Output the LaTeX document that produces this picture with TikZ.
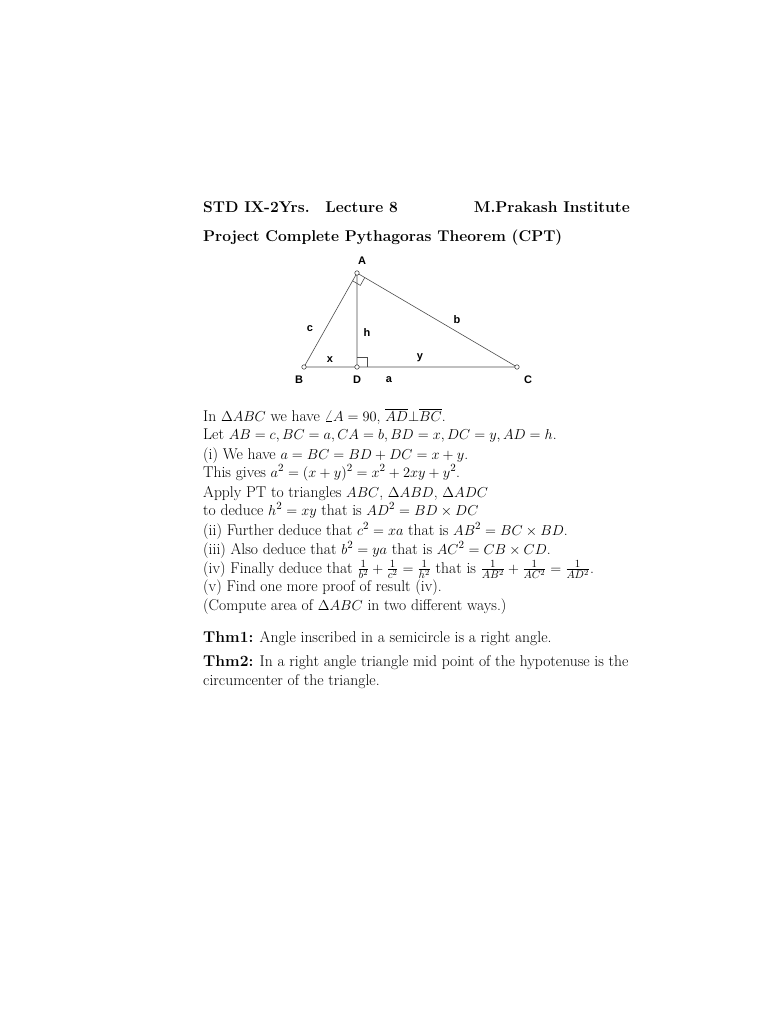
\documentclass[tikz,border=0pt]{standalone}
\usepackage{fontspec}
\usepackage{amsmath}
\usetikzlibrary{calc}
\newfontfamily\lbl{Liberation Sans}
\begin{document}
\begin{tikzpicture}[x=1pt,y=-1pt,
  txt/.style={anchor=base west,inner sep=0pt,font=\fontsize{15.6}{18}\selectfont},
  lab/.style={inner sep=0pt,font=\lbl\bfseries\fontsize{11}{12}\selectfont},
  pt/.style={circle,draw,fill=white,inner sep=0pt,minimum size=4.5pt},
  edge/.style={draw=black!70,line width=0.6pt}]
\useasboundingbox (0,0) rectangle (768,1024);
\node[txt] (h1) at (203,213) {\textbf{STD IX-2Yrs.\quad Lecture 8}};
\node[txt,anchor=base east] (h2) at (630,213) {\textbf{M.Prakash Institute}};
\node[txt] (h3) at (203,241) {\textbf{Project Complete Pythagoras Theorem (CPT)}};
% triangle
\coordinate (A) at (357,273);
\coordinate (B) at (304,367);
\coordinate (D) at (357,367);
\coordinate (C) at (517,367);
\draw[edge] (A)--(B)--(C)--cycle (A)--(D);
\draw[edge] (357,357)--(367,357)--(367,367);
\draw[edge] ($(A)!9pt!(B)$) -- ($(A)!9pt!(B)+(A)!9pt!(C)-(A)$) -- ($(A)!9pt!(C)$);
\node[pt] at (A) {}; \node[pt] at (B) {}; \node[pt] at (D) {}; \node[pt] at (C) {};
\node[lab] (lA) at (362,261) {A};
\node[lab] (lB) at (299,380) {B};
\node[lab] (lD) at (357,380) {D};
\node[lab] (la) at (389,380) {a};
\node[lab] (lC) at (528,380) {C};
\node[lab] (lc) at (310,329) {c};
\node[lab] (lh) at (367,333) {h};
\node[lab] (lb) at (457,320) {b};
\node[lab] (lx) at (330,360) {x};
\node[lab] (ly) at (420,358) {y};
% text
\node[txt] (t1) at (203,421) {In $\Delta ABC$ we have $\angle A=90$, $\overline{AD}{\perp}\overline{BC}$.};
\node[txt] (t2) at (203,439.5) {Let $AB=c, BC=a, CA=b, BD=x, DC=y, AD=h$.};
\node[txt] (t3) at (203,459) {(i) We have $a=BC=BD+DC=x+y$.};
\node[txt] (t4) at (203,477) {This gives $a^2=(x+y)^2=x^2+2xy+y^2$.};
\node[txt] (t5) at (203,497) {Apply PT to triangles $ABC$, $\Delta ABD$, $\Delta ADC$};
\node[txt] (t6) at (203,515) {to deduce $h^2=xy$ that is $AD^2=BD\times DC$};
\node[txt] (t7) at (203,535) {(ii) Further deduce that $c^2=xa$ that is $AB^2=BC\times BD$.};
\node[txt] (t8) at (203,554) {(iii) Also deduce that $b^2=ya$ that is $AC^2=CB\times CD$.};
\node[txt] (t9) at (203,573) {(iv) Finally deduce that $\frac{1}{b^2}+\frac{1}{c^2}=\frac{1}{h^2}$ that is $\frac{1}{AB^2}+\frac{1}{AC^2}=\frac{1}{AD^2}$.};
\node[txt] (t10) at (203,591) {(v) Find one more proof of result (iv).};
\node[txt] (t11) at (203,610) {(Compute area of $\Delta ABC$ in two different ways.)};
\node[txt] (t12) at (203,642) {\textbf{Thm1:} Angle inscribed in a semicircle is a right angle.};
\node[txt] (t13) at (203,666) {\textbf{Thm2:} In a right angle triangle mid point of the hypotenuse is the};
\node[txt] (t14) at (203,685) {circumcenter of the triangle.};
\end{tikzpicture}
\end{document}
